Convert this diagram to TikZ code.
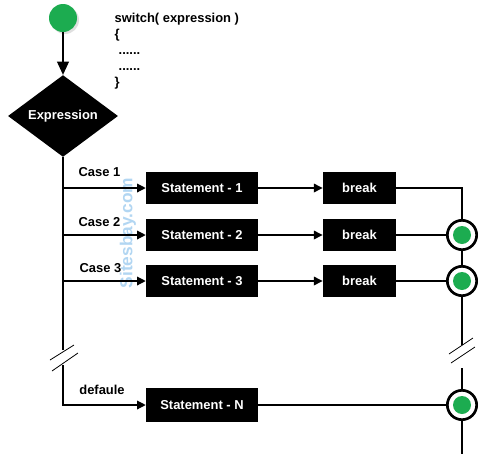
\documentclass[tikz,border=0pt]{standalone}
\usepackage{fontspec}
\setmainfont{Liberation Sans}
\usetikzlibrary{shapes.geometric,arrows.meta,shadows}
\definecolor{dotgreen}{RGB}{28,172,80}
\definecolor{wmblue}{RGB}{178,214,242}
\tikzset{
	every node/.style={font=\fontsize{9.7}{12}\selectfont\bfseries},
	stmt/.style={fill=black, text=white, minimum width=84pt, minimum height=23.5pt, inner sep=0pt},
	brkbox/.style={fill=black, text=white, minimum width=55pt, minimum height=24pt, inner sep=0pt},
	endpt/.style={circle, draw=black, line width=2pt, fill=white, minimum size=22pt, inner sep=0pt,
		path picture={\fill[dotgreen] (path picture bounding box.center) circle (6.75pt);}},
	flow/.style={line width=0.9pt},
	tip/.style={flow, -{Triangle[length=6.5pt,width=6.5pt]}},
	cut/.style={line width=0.6pt},
}
\begin{document}
\begin{tikzpicture}[x=0.75pt, y=-0.75pt]
	\useasboundingbox (0,0) rectangle (490,454);
	% 水印
	\node[rotate=90, text=wmblue, font=\fontsize{13}{13}\selectfont\bfseries] (wm) at (128,233) {Sitesbay.com};
	% 起点, switch 语句, 判断
	\node[circle, fill=dotgreen, minimum size=21pt, inner sep=0pt, drop shadow={shadow xshift=1.5pt, shadow yshift=-1.5pt, fill=black!25}] (start) at (63,18) {};
	\node[anchor=north west, align=left] (code) at (110,8) {switch( expression )\\\{\\\hspace{3pt}......\\\hspace{3pt}......\\\}};
	\node[diamond, fill=black, text=white, minimum width=82.5pt, minimum height=55pt, inner sep=0pt] (expr) at (63,116) {Expression};
	\draw[flow, -{Triangle[length=10pt,width=9pt]}] (start) -- (expr);
	% 各分支语句
	\node[stmt] (s1) at (202,188) {Statement - 1};
	\node[stmt] (s2) at (202,235) {Statement - 2};
	\node[stmt] (s3) at (202,281) {Statement - 3};
	\node[stmt, minimum height=26pt] (sn) at (202,405) {Statement - N};
	\node[brkbox] (b1) at (359.5,188) {break};
	\node[brkbox] (b2) at (359.5,235) {break};
	\node[brkbox] (b3) at (359.5,281) {break};
	% 左侧主线
	\coordinate (c1) at (63,188);
	\coordinate (c2) at (63,235);
	\coordinate (c3) at (63,281);
	\coordinate (g1) at (63,350);
	\coordinate (g2) at (63,365);
	\coordinate (c4) at (63,405);
	\draw[flow] (expr.south) -- (g1);
	\draw[tip] (g2) -- (c4) -- (sn);
	\draw[tip] (c1) -- (s1);
	\draw[tip] (c2) -- (s2);
	\draw[tip] (c3) -- (s3);
	\node (l1) at (99.5,172) {Case 1};
	\node (l2) at (99.5,222) {Case 2};
	\node (l3) at (100.5,268) {Case 3};
	\node (ld) at (102,390) {defaule};
	\draw[cut] (50,360) -- (74,345);
	\draw[cut] (52,371) -- (78,353);
	% 语句到 break
	\draw[tip] (s1) -- (b1);
	\draw[tip] (s2) -- (b2);
	\draw[tip] (s3) -- (b3);
	% 右侧汇合
	\coordinate (r1) at (462,188);
	\node[endpt] (e1) at (462,235) {};
	\node[endpt] (e2) at (462,281) {};
	\node[endpt] (e3) at (462,405) {};
	\coordinate (r2) at (462,345);
	\coordinate (r3) at (462,368);
	\coordinate (r4) at (462,454);
	\draw[flow] (b1) -- (r1) -- (e1);
	\draw[flow] (b2) -- (e1);
	\draw[flow] (b3) -- (e2);
	\draw[flow] (sn) -- (e3);
	\draw[flow] (e1) -- (e2);
	\draw[flow] (e2) -- (r2);
	\draw[flow] (r3) -- (e3);
	\draw[flow] (e3) -- (r4);
	\draw[cut] (449,354) -- (473,338);
	\draw[cut] (451,363) -- (475,347);
\end{tikzpicture}
\end{document}
